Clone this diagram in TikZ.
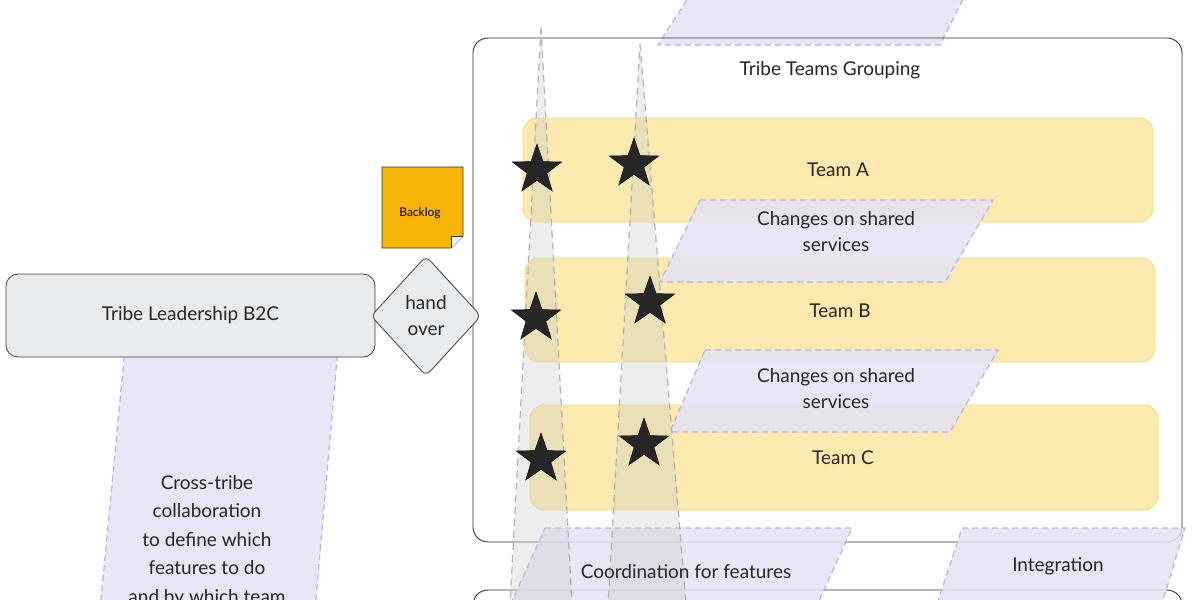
\documentclass[tikz,border=0pt]{standalone}
\usepackage{fontspec}
\setmainfont{Lato}
\usetikzlibrary{shapes.geometric}
\definecolor{lav}{HTML}{E4E2F6}
\definecolor{lavb}{HTML}{B9B4EA}
\definecolor{teamfill}{HTML}{FDEAAE}
\definecolor{teamedge}{HTML}{F6D77C}
\definecolor{greyf}{HTML}{E9ECEF}
\definecolor{sticky}{HTML}{F9B40A}
\tikzset{
  lavpar/.style={fill=lav,fill opacity=0.85,draw=lavb,dashed,line width=1.2pt,dash pattern=on 6pt off 4pt},
  beam/.style={fill=gray!40,fill opacity=0.35,draw=gray!70,draw opacity=0.8,line width=1.2pt,dash pattern=on 7pt off 5pt},
  team/.style={fill=teamfill,draw=teamedge,rounded corners=14pt,line width=0.8pt},
  lbl/.style={font=\fontsize{19}{26}\selectfont,align=center,text=black!85},
  starn/.style={star,star points=5,star point ratio=2.5,minimum size=52pt,fill=black!85,draw=black,inner sep=0pt}
}
\begin{document}
\begin{tikzpicture}[x=1pt,y=-1pt]
\useasboundingbox (0,0) rectangle (1200,600);
\fill[white] (0,0) rectangle (1200,600);
% top parallelogram
\path[lavpar] (690,-5) -- (965,-5) -- (940,45) -- (658,45) -- cycle;
% big box
\draw[rounded corners=15pt,line width=0.9pt,black!80] (473,38) rectangle (1182,542);
\node[lbl] (grp) at (830,70) {Tribe Teams Grouping};
% bottom box
\draw[rounded corners=15pt,line width=0.9pt,black!80] (473,630) |- (1182,590) -- (1182,630);
% teams
\path[team] (523,118) rectangle (1153,222);
\path[team] (525,258) rectangle (1155,362);
\path[team] (530,405) rectangle (1158,510);
% shared services parallelograms
\path[lavpar] (700,200) -- (993,200) -- (945,282) -- (660,282) -- cycle;
\path[lavpar] (705,350) -- (998,350) -- (950,432) -- (670,432) -- cycle;
% bottom parallelograms
\path[lavpar] (545,528) -- (852,528) -- (815,610) -- (508,610) -- cycle;
\path[lavpar] (962,528) -- (1185,528) -- (1160,610) -- (935,610) -- cycle;
\path[lavpar] (125,348) -- (338,348) -- (315,610) -- (100,610) -- cycle;
% beams
\path[beam] (541,27) -- (572,605) -- (510,605) -- cycle;
\path[beam] (640,44) -- (686,605) -- (608,605) -- cycle;
% team labels
\node[lbl] (ta) at (838,170) {Team A};
\node[lbl] (tb) at (840,311) {Team B};
\node[lbl] (tc) at (843,458) {Team C};
\node[lbl] (cs1) at (836,232) {Changes on shared\\services};
\node[lbl] (cs2) at (836,389) {Changes on shared\\services};
\node[lbl] (coord) at (686,572) {Coordination for features};
\node[lbl] (integ) at (1058,566) {Integration};
% stars
\node[starn] (s1) at (537,170) {};
\node[starn] (s2) at (634,164) {};
\node[starn] (s3) at (536,318) {};
\node[starn] (s4) at (650,302) {};
\node[starn] (s5) at (541,459) {};
\node[starn] (s6) at (644,444) {};
% sticky note
\fill[sticky] (382,167) -- (463,167) -- (463,236) -- (451,248) -- (382,248) -- cycle;
\draw[black!80,line width=0.8pt] (382,167) -- (463,167) -- (463,236) -- (451,248) -- (382,248) -- cycle;
\fill[white] (463,236) -- (451,248) -- (451,236) -- cycle;
\draw[black!80,line width=0.6pt] (463,236) -- (451,236) -- (451,248);
\node[font=\fontsize{12}{14}\selectfont] (backlog) at (420,213) {Backlog};
% leadership
\node[draw=black!75,fill=greyf,rounded corners=12pt,minimum width=369pt,minimum height=83pt,line width=0.8pt,lbl] (lead) at (190.5,315.5) {Tribe Leadership B2C};
\node[diamond,draw=black!75,fill=greyf,minimum width=110pt,minimum height=120pt,inner sep=0pt,line width=0.8pt,lbl,rounded corners=6pt] (hand) at (426,316) {hand\\over};
\node[lbl,font=\fontsize{19}{28.5}\selectfont] (cross) at (207,541) {Cross-tribe\\collaboration\\to define which\\features to do\\and by which team};
\end{tikzpicture}
\end{document}
